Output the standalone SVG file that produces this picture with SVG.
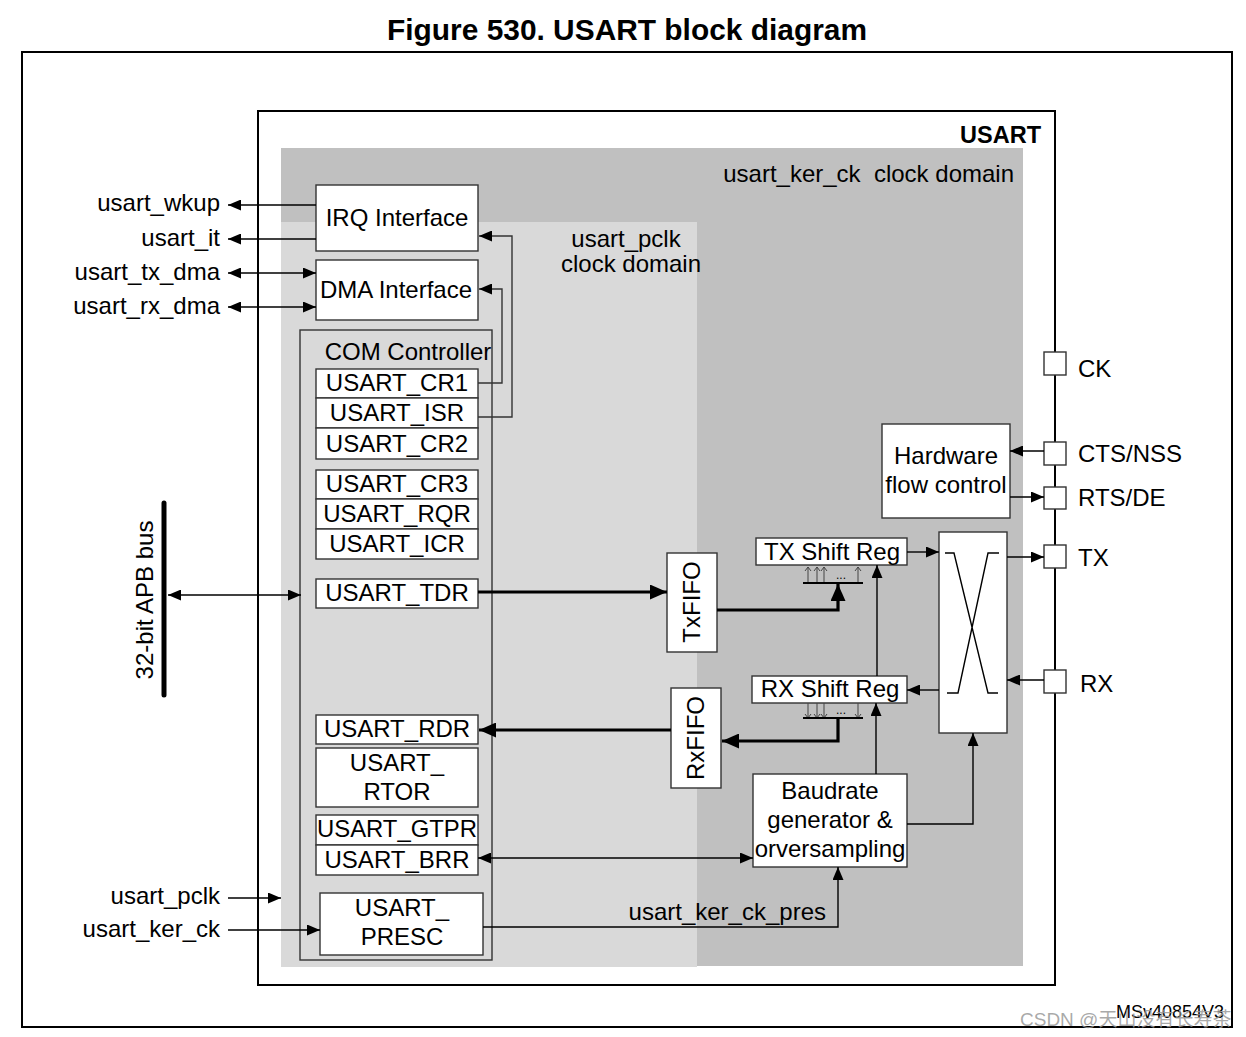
<svg xmlns="http://www.w3.org/2000/svg" width="1246" height="1037" viewBox="0 0 1246 1037">
<defs>
<style>
text{font-family:"Liberation Sans",Arial,sans-serif;fill:#000}
.t{font-size:24px}
.c{text-anchor:middle}
.e{text-anchor:end}
.box{fill:#fff;stroke:#333;stroke-width:1.4}
.ln{fill:none;stroke:#000;stroke-width:1.4}
.lg{fill:none;stroke:#333;stroke-width:1.4}
.thk{fill:none;stroke:#000;stroke-width:3.2}
.sm{fill:none;stroke:#444;stroke-width:1}
</style>
<marker id="a" markerUnits="userSpaceOnUse" markerWidth="13" markerHeight="11" refX="13" refY="5.5" orient="auto-start-reverse"><path d="M0,0L13,5.5L0,11z" fill="#000"/></marker>
<marker id="A" markerUnits="userSpaceOnUse" markerWidth="17" markerHeight="15" refX="17" refY="7.5" orient="auto"><path d="M0,0L17,7.5L0,15z" fill="#000"/></marker>
</defs>
<rect width="1246" height="1037" fill="#fff"/>
<text x="627" y="40" font-size="29" font-weight="bold" text-anchor="middle" textLength="480" lengthAdjust="spacingAndGlyphs">Figure 530. USART block diagram</text>
<rect x="22" y="52" width="1210" height="975" fill="#fff" stroke="#000" stroke-width="2"/>
<g id="usart">
<rect x="258" y="111" width="797" height="874" fill="#fff" stroke="#000" stroke-width="2"/>
<text x="1041" y="143" font-size="23.5" font-weight="bold" class="e">USART</text>
</g>
<g id="ker-domain">
<rect x="281" y="148" width="742" height="818" fill="#c0c0c0"/>
<text x="1014" y="182" class="t e" style="white-space:pre">usart_ker_ck  clock domain</text>
</g>
<g id="pclk-domain">
<rect x="281" y="222" width="416" height="745" fill="#d9d9d9"/>
<text x="626" y="247" class="t c">usart_pclk</text>
<text x="631" y="272" class="t c">clock domain</text>
</g>
<g id="apb-bus">
<line x1="164" y1="503" x2="164" y2="695" stroke="#000" stroke-width="5" stroke-linecap="round"/>
<text transform="translate(153,600) rotate(-90)" class="t c">32-bit APB bus</text>
</g>
<g id="labels-left">
<text x="220" y="211" class="t e">usart_wkup</text>
<text x="220" y="246" class="t e">usart_it</text>
<text x="220" y="280" class="t e">usart_tx_dma</text>
<text x="220" y="314" class="t e">usart_rx_dma</text>
<text x="220" y="904" class="t e">usart_pclk</text>
<text x="220" y="937" class="t e">usart_ker_ck</text>
</g>
<g id="irq">
<rect x="316" y="185" width="162" height="66" class="box"/>
<text x="397" y="226" class="t c">IRQ Interface</text>
</g>
<g id="dma">
<rect x="316" y="260" width="162" height="60" class="box"/>
<text x="396" y="298" class="t c">DMA Interface</text>
</g>
<g id="com">
<rect x="300" y="330" width="192" height="630" fill="none" stroke="#333" stroke-width="1.4"/>
<text x="408" y="360" class="t c">COM Controller</text>
</g>
<g id="regs1">
<rect x="316" y="369" width="162" height="29" class="box"/>
<rect x="316" y="398" width="162" height="30" class="box"/>
<rect x="316" y="428" width="162" height="31" class="box"/>
<text x="397" y="391" class="t c">USART_CR1</text>
<text x="397" y="421" class="t c">USART_ISR</text>
<text x="397" y="452" class="t c">USART_CR2</text>
</g>
<g id="regs2">
<rect x="316" y="470" width="162" height="29" class="box"/>
<rect x="316" y="499" width="162" height="30" class="box"/>
<rect x="316" y="529" width="162" height="30" class="box"/>
<text x="397" y="492" class="t c">USART_CR3</text>
<text x="397" y="522" class="t c">USART_RQR</text>
<text x="397" y="552" class="t c">USART_ICR</text>
</g>
<g id="tdr">
<rect x="316" y="579" width="162" height="29" class="box"/>
<text x="397" y="601" class="t c">USART_TDR</text>
</g>
<g id="rdr">
<rect x="316" y="715" width="162" height="29" class="box"/>
<text x="397" y="737" class="t c">USART_RDR</text>
</g>
<g id="rtor">
<rect x="316" y="748" width="162" height="59" class="box"/>
<text x="397" y="771" class="t c">USART_</text>
<text x="397" y="800" class="t c">RTOR</text>
</g>
<g id="gtpr-brr">
<rect x="316" y="815" width="162" height="30" class="box"/>
<rect x="316" y="845" width="162" height="30" class="box"/>
<text x="397" y="837" class="t c" textLength="160" lengthAdjust="spacingAndGlyphs">USART_GTPR</text>
<text x="397" y="868" class="t c">USART_BRR</text>
</g>
<g id="presc">
<rect x="320" y="893" width="163" height="62" class="box"/>
<text x="402" y="916" class="t c">USART_</text>
<text x="402" y="945" class="t c">PRESC</text>
</g>
<g id="txfifo">
<rect x="667" y="553" width="50" height="99" class="box"/>
<text transform="translate(700,602) rotate(-90)" class="t c">TxFIFO</text>
</g>
<g id="rxfifo">
<rect x="671" y="688" width="50" height="100" class="box"/>
<text transform="translate(704,738) rotate(-90)" class="t c">RxFIFO</text>
</g>
<g id="txshift">
<rect x="756" y="538" width="151" height="27" class="box"/>
<text x="832" y="560" class="t c">TX Shift Reg</text>
<path class="sm" d="M803,583H863M808,583V567M817,583V567M824,583V567M858,583V567M805,571L808,567L811,571M814,571L817,567L820,571M821,571L824,567L827,571M855,571L858,567L861,571"/>
<line x1="803" y1="583" x2="863" y2="583" stroke="#000" stroke-width="2"/>
<text x="841" y="579" font-size="12" class="c">...</text>
</g>
<g id="rxshift">
<rect x="752" y="676" width="155" height="27" class="box"/>
<text x="830" y="697" class="t c">RX Shift Reg</text>
<path class="sm" d="M808,703V718M817,703V718M824,703V718M858,703V718M805,714L808,718L811,714M814,714L817,718L820,714M821,714L824,718L827,714M855,714L858,718L861,714"/>
<line x1="803" y1="718" x2="863" y2="718" stroke="#000" stroke-width="2"/>
<text x="841" y="714" font-size="12" class="c">...</text>
</g>
<g id="crossbar">
<rect x="939" y="532" width="68" height="201" class="box"/>
<path class="ln" d="M945,553H954L988,693H998M999,553H988L958,693H947"/>
</g>
<g id="hwflow">
<rect x="882" y="424" width="128" height="94" class="box"/>
<text x="946" y="464" class="t c">Hardware</text>
<text x="946" y="493" class="t c">flow control</text>
</g>
<g id="baud">
<rect x="753" y="774" width="154" height="93" class="box"/>
<text x="830" y="799" class="t c">Baudrate</text>
<text x="830" y="828" class="t c">generator &amp;</text>
<text x="830" y="857" class="t c">orversampling</text>
</g>
<g id="pins">
<rect x="1044" y="352" width="22" height="23" class="box"/>
<rect x="1044" y="442" width="22" height="23" class="box"/>
<rect x="1044" y="487" width="22" height="22" class="box"/>
<rect x="1044" y="545" width="22" height="23" class="box"/>
<rect x="1044" y="670" width="22" height="23" class="box"/>
<text x="1078" y="377" class="t">CK</text>
<text x="1078" y="462" class="t">CTS/NSS</text>
<text x="1078" y="506" class="t">RTS/DE</text>
<text x="1078" y="566" class="t">TX</text>
<text x="1080" y="692" class="t">RX</text>
</g>
<g id="connectors">
<line class="ln" x1="316" y1="205" x2="228" y2="205" marker-end="url(#a)"/>
<line class="ln" x1="316" y1="239" x2="228" y2="239" marker-end="url(#a)"/>
<line class="ln" x1="228" y1="273" x2="316" y2="273" marker-start="url(#a)" marker-end="url(#a)"/>
<line class="ln" x1="228" y1="307" x2="316" y2="307" marker-start="url(#a)" marker-end="url(#a)"/>
<polyline class="lg" points="478,383 502,383 502,289 479,289" marker-end="url(#a)"/>
<polyline class="lg" points="478,417 512,417 512,236 479,236" marker-end="url(#a)"/>
<line class="ln" x1="168" y1="595" x2="301" y2="595" marker-start="url(#a)" marker-end="url(#a)"/>
<line class="ln" x1="228" y1="898" x2="281" y2="898" marker-end="url(#a)"/>
<line class="ln" x1="228" y1="930" x2="320" y2="930" marker-end="url(#a)"/>
<line class="thk" x1="478" y1="592" x2="667" y2="592" marker-end="url(#A)"/>
<polyline class="thk" points="717,610 838,610 838,584" marker-end="url(#A)"/>
<line class="thk" x1="671" y1="730" x2="479" y2="730" marker-end="url(#A)"/>
<polyline class="thk" points="838,718 838,741 722,741" marker-end="url(#A)"/>
<line class="ln" x1="478" y1="858" x2="753" y2="858" marker-start="url(#a)" marker-end="url(#a)"/>
<polyline class="ln" points="483,927 838,927 838,867" marker-end="url(#a)"/>
<text x="826" y="920" class="t e">usart_ker_ck_pres</text>
<line class="ln" x1="876" y1="774" x2="876" y2="703" marker-end="url(#a)"/>
<line class="ln" x1="877" y1="676" x2="877" y2="565" marker-end="url(#a)"/>
<polyline class="ln" points="907,824 973,824 973,733" marker-end="url(#a)"/>
<line class="ln" x1="907" y1="552" x2="939" y2="552" marker-end="url(#a)"/>
<line class="ln" x1="939" y1="690" x2="907" y2="690" marker-end="url(#a)"/>
<line class="ln" x1="1007" y1="557" x2="1044" y2="557" marker-end="url(#a)"/>
<line class="ln" x1="1044" y1="680" x2="1007" y2="680" marker-end="url(#a)"/>
<line class="ln" x1="1044" y1="451" x2="1010" y2="451" marker-end="url(#a)"/>
<line class="ln" x1="1010" y1="497" x2="1044" y2="497" marker-end="url(#a)"/>
</g>
<g id="footer">
<text x="1224" y="1018" font-size="18" class="e">MSv40854V3</text>
<text x="1020" y="1026" font-size="19" style="fill:#9a9a9a;fill-opacity:0.85;font-family:'Liberation Sans','Noto Sans CJK SC',sans-serif">CSDN @天山没有长寿茶</text>
</g>
</svg>
